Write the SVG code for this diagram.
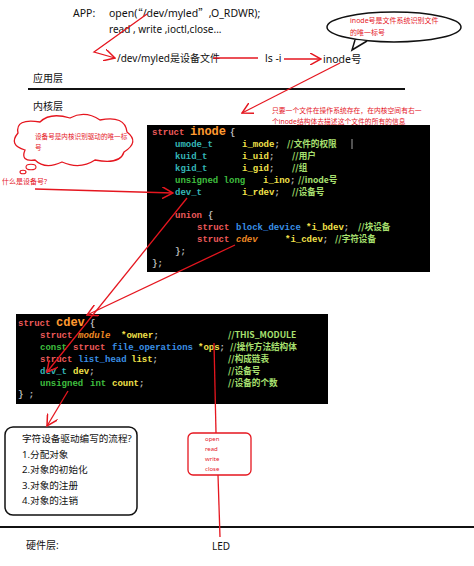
<svg xmlns="http://www.w3.org/2000/svg" width="474" height="566" viewBox="0 0 474 566">
<defs>
<marker id="arr" viewBox="0 0 12 12" refX="11" refY="6" markerWidth="12" markerHeight="12" markerUnits="userSpaceOnUse" orient="auto">
<path d="M0,0 L11,6 L0,12" fill="none" stroke="#e5161f" stroke-width="1.5"/>
</marker>
<style>
.t{font-family:"Noto Sans","Noto Sans CJK SC",sans-serif;fill:#111}
.q{font-family:"Noto Sans CJK SC",sans-serif}
.r{font-family:"Noto Sans","Noto Sans CJK SC",sans-serif;fill:#e5161f}
.c{font-family:"Liberation Mono","DejaVu Sans Mono","Noto Sans CJK SC",monospace;font-size:9px;font-weight:bold}
.cm{font-family:"Noto Sans CJK SC","Liberation Mono",monospace;font-size:8.6px;fill:#a8e070;font-weight:bold}
.kw{fill:#ec5a5a}.ty{fill:#35b8b8}.id{fill:#f2e24a}.bl{fill:#3a90e6}.gr{fill:#3fbf3f}.it{fill:#f08a24;font-style:italic}.pu{fill:#b8b8b8}
.big{fill:#ff9a30;font-size:12px}
.ln{stroke:#e5161f;stroke-width:1.3;fill:none}
</style>
</defs>

<g id="labels">
<text class="t" x="73" y="17" font-size="10.5">APP:</text>
<text class="t" x="109" y="17" font-size="10.5">open(<tspan class="q">“</tspan>/dev/myled<tspan class="q">”</tspan>,O_RDWR);</text>
<text class="t" x="109" y="33" font-size="10">read , write ,ioctl,close...</text>
<text class="t" x="117" y="62" font-size="10">/dev/myled是设备文件</text>
<text class="t" x="265" y="62" font-size="10.5">ls -i</text>
<text class="t" x="323" y="63" font-size="10.5">inode号</text>
<text class="t" x="33" y="82" font-size="10">应用层</text>
<text class="t" x="33" y="110" font-size="10">内核层</text>
<text class="t" x="26" y="549" font-size="10">硬件层:</text>
<text class="t" x="212" y="550" font-size="10">LED</text>
<text class="r" x="272" y="113" font-size="6.8">只要一个文件在操作系统存在，在内核空间有右一</text>
<text class="r" x="272" y="124" font-size="6.8">个inode结构体去描述这个文件的所有的信息</text>
<text class="r" x="2" y="184" font-size="7">什么是设备号?</text>
</g>

<g id="layers">
<line x1="28" y1="89" x2="405" y2="89" stroke="#111" stroke-width="2"/>
<line x1="0" y1="527" x2="474" y2="527" stroke="#111" stroke-width="2"/>
</g>

<g id="bubble">
<ellipse cx="394" cy="27" rx="67" ry="15" fill="#fff" stroke="#111" stroke-width="1.5"/>
<path d="M355,40 L352,50 L367,41 Z" fill="#fff" stroke="none"/>
<path d="M355,40 L352,50 L367,41" fill="none" stroke="#111" stroke-width="1.5"/>
<text class="r" x="350" y="23" font-size="7">inode号是文件系统识别文件</text>
<text class="r" x="350" y="35" font-size="7">的唯一标号</text>
</g>

<g id="cloud">
<path d="M25,150 Q8,145 18,133 Q15,118 40,122 Q50,112 70,118 Q85,110 100,120 Q125,115 127,132 Q140,142 124,152 Q120,165 95,160 Q80,170 62,162 Q45,170 35,160 Q20,162 25,150 Z" fill="#fff" stroke="#e5161f" stroke-width="1.3"/>
<ellipse cx="31" cy="167" rx="5" ry="2.8" fill="none" stroke="#e5161f" stroke-width="1.1"/>
<ellipse cx="23" cy="172" rx="3" ry="1.8" fill="none" stroke="#e5161f" stroke-width="1.1"/>
<text class="r" x="35" y="139" font-size="6.6">设备号是内核识别驱动的唯一标</text>
<text class="r" x="35" y="150" font-size="6.6">号</text>
</g>

<g id="inode">
<rect x="147" y="125" width="283" height="147" fill="#000"/>
<text class="c" y="135"><tspan class="kw" x="152">struct</tspan><tspan class="big" x="190">inode</tspan><tspan class="pu" x="230">{</tspan></text>
<text class="c" y="147"><tspan class="ty" x="175">umode_t</tspan><tspan class="id" x="242">i_mode</tspan><tspan class="pu">;</tspan></text>
<text class="cm" x="287" y="147">//文件的权限</text>
<line x1="352" y1="139" x2="352" y2="149" stroke="#ccc" stroke-width="0.8"/>
<text class="c" y="159"><tspan class="ty" x="175">kuid_t</tspan><tspan class="id" x="242">i_uid</tspan><tspan class="pu">;</tspan></text>
<text class="cm" x="292" y="159">//用户</text>
<text class="c" y="171"><tspan class="ty" x="175">kgid_t</tspan><tspan class="id" x="242">i_gid</tspan><tspan class="pu">;</tspan></text>
<text class="cm" x="292" y="171">//组</text>
<text class="c" y="183"><tspan class="gr" x="175">unsigned long</tspan><tspan class="id" x="263">i_ino</tspan><tspan class="pu">;</tspan></text>
<text class="cm" x="298" y="183">//inode号</text>
<text class="c" y="195"><tspan class="ty" x="175">dev_t</tspan><tspan class="id" x="242">i_rdev</tspan><tspan class="pu">;</tspan></text>
<text class="cm" x="292" y="195">//设备号</text>
<text class="c" y="218"><tspan class="kw" x="175">union</tspan><tspan class="pu" x="208">{</tspan></text>
<text class="c" y="230"><tspan class="kw" x="197">struct</tspan><tspan class="bl" x="236">block_device</tspan><tspan class="id" x="306">*i_bdev</tspan><tspan class="pu">;</tspan></text>
<text class="cm" x="358" y="230">//块设备</text>
<text class="c" y="242"><tspan class="kw" x="197">struct</tspan><tspan class="it" x="236">cdev</tspan><tspan class="id" x="285">*i_cdev</tspan><tspan class="pu">;</tspan></text>
<text class="cm" x="335" y="242">//字符设备</text>
<text class="c" y="254"><tspan class="pu" x="175">};</tspan></text>
<text class="c" y="266"><tspan class="pu" x="152">};</tspan></text>
</g>

<g id="cdev">
<rect x="16" y="314" width="312" height="90" fill="#000"/>
<text class="c" y="326"><tspan class="kw" x="18">struct</tspan><tspan class="big" x="56">cdev</tspan><tspan class="pu" x="90">{</tspan></text>
<text class="c" y="338"><tspan class="kw" x="40">struct</tspan><tspan class="it" x="78">module</tspan><tspan class="id" x="121">*owner</tspan><tspan class="pu">;</tspan></text>
<text class="cm" x="228" y="338">//THIS_MODULE</text>
<text class="c" y="350"><tspan class="gr" x="40">const</tspan><tspan class="kw" x="73">struct</tspan><tspan class="bl" x="112">file_operations</tspan><tspan class="id" x="198">*ops</tspan><tspan class="pu">;</tspan></text>
<text class="cm" x="230" y="350">//操作方法结构体</text>
<text class="c" y="362"><tspan class="kw" x="40">struct</tspan><tspan class="bl" x="78">list_head</tspan><tspan class="id" x="131">list</tspan><tspan class="pu">;</tspan></text>
<text class="cm" x="228" y="362">//构成链表</text>
<text class="c" y="374"><tspan class="ty" x="40">dev_t</tspan><tspan class="id" x="73">dev</tspan><tspan class="pu">;</tspan></text>
<text class="cm" x="228" y="374">//设备号</text>
<text class="c" y="386"><tspan class="gr" x="40">unsigned</tspan><tspan class="gr" x="90">int</tspan><tspan class="id" x="112">count</tspan><tspan class="pu">;</tspan></text>
<text class="cm" x="228" y="386">//设备的个数</text>
<text class="c" y="397"><tspan class="pu" x="18">} ;</tspan></text>
</g>

<g id="flow">
<rect x="5" y="427" width="132" height="88" rx="8" fill="#fff" stroke="#111" stroke-width="1.5"/>
<text class="t" x="22" y="442" font-size="9.6">字符设备驱动编写的流程?</text>
<text class="t" x="22" y="458" font-size="9.6">1.分配对象</text>
<text class="t" x="22" y="473" font-size="9.6">2.对象的初始化</text>
<text class="t" x="22" y="489" font-size="9.6">3.对象的注册</text>
<text class="t" x="22" y="504" font-size="9.6">4.对象的注销</text>
</g>

<g id="ops">
<rect x="188" y="433" width="63" height="42" rx="5" fill="#fff" stroke="#e5161f" stroke-width="1.3"/>
<text class="r" x="205" y="441" font-size="6">open</text>
<text class="r" x="205" y="451" font-size="6">read</text>
<text class="r" x="205" y="461" font-size="6">write</text>
<text class="r" x="205" y="471" font-size="6">close</text>
</g>

<g id="connectors">
<polyline class="ln" points="147,14 94,52 115,58" marker-end="url(#arr)"/>
<line class="ln" x1="213" y1="58" x2="258" y2="58"/>
<line class="ln" x1="284" y1="59" x2="321" y2="59" marker-end="url(#arr)"/>
<line class="ln" x1="340" y1="63" x2="242" y2="113" marker-end="url(#arr)"/>
<line class="ln" x1="35" y1="189" x2="173" y2="193" marker-end="url(#arr)"/>
<line class="ln" x1="187" y1="198" x2="47" y2="372" marker-end="url(#arr)"/>
<line class="ln" x1="235" y1="245" x2="87" y2="315" marker-end="url(#arr)"/>
<line class="ln" x1="68" y1="391" x2="47" y2="426" marker-end="url(#arr)"/>
<line class="ln" x1="214" y1="343" x2="216" y2="433"/>
<line class="ln" x1="218" y1="475" x2="220" y2="537"/>
</g>
</svg>
